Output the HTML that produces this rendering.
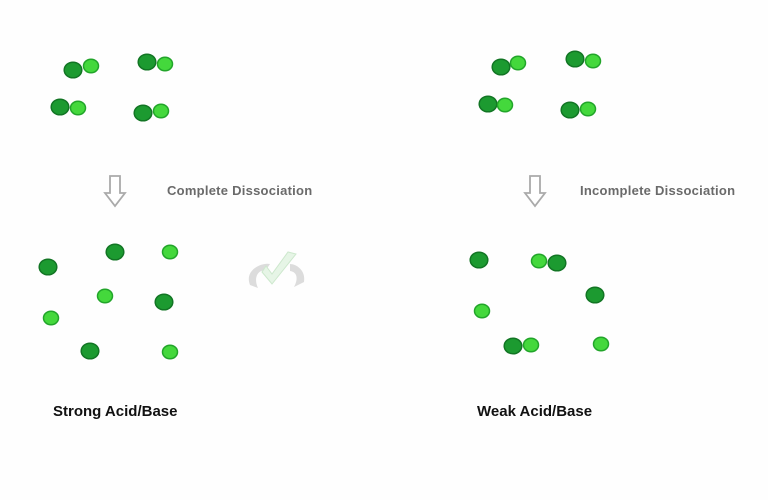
<!DOCTYPE html>
<html><head><meta charset="utf-8"><style>
html,body{margin:0;padding:0;background:#fefefe;}
svg{display:block}
text{font-family:"Liberation Sans",sans-serif;}
</style></head><body>
<svg width="768" height="500" viewBox="0 0 768 500" xmlns="http://www.w3.org/2000/svg">
<defs>
<g id="d"><ellipse rx="8.8" ry="7.8" fill="#1c9a30" stroke="#127524" stroke-width="1.5"/></g>
<g id="l"><ellipse rx="7.5" ry="6.8" fill="#44d83c" stroke="#22a52a" stroke-width="1.5"/></g>
<g id="ar"><path d="M-5,0 H5 V17 H10 L0,30 L-10,17 H-5 Z" fill="#fff" stroke="#aaa" stroke-width="1.8"/></g>
</defs>
<rect width="768" height="500" fill="#fefefe"/>
<use href="#d" x="73" y="70"/><use href="#l" x="91" y="66"/>
<use href="#d" x="147" y="62"/><use href="#l" x="165" y="64"/>
<use href="#d" x="60" y="107"/><use href="#l" x="78" y="108"/>
<use href="#d" x="143" y="113"/><use href="#l" x="161" y="111"/>
<use href="#ar" x="115" y="176"/>
<text x="167" y="195" font-size="13" letter-spacing="0.25" font-weight="bold" fill="#6a6a6a">Complete Dissociation</text>
<use href="#d" x="48" y="267"/><use href="#d" x="115" y="252"/><use href="#l" x="170" y="252"/>
<use href="#l" x="105" y="296"/><use href="#d" x="164" y="302"/><use href="#l" x="51" y="318"/>
<use href="#d" x="90" y="351"/><use href="#l" x="170" y="352"/>
<path d="M250,285 C244,270 262,262 270,264 L266,270 C256,270 254,280 258,288 Z" fill="#dcdcdc"/>
<path d="M304,282 C306,270 296,264 290,264 L290,271 C298,272 298,280 294,287 Z" fill="#dcdcdc"/>
<path d="M262,272 L272,284 L296,254 L288,252 L272,274 L266,266 Z" fill="#e6f5e6" stroke="#cde8cd" stroke-width="1"/>
<text x="53" y="416" font-size="15" font-weight="bold" fill="#111">Strong Acid/Base</text>
<use href="#d" x="501" y="67"/><use href="#l" x="518" y="63"/>
<use href="#d" x="575" y="59"/><use href="#l" x="593" y="61"/>
<use href="#d" x="488" y="104"/><use href="#l" x="505" y="105"/>
<use href="#d" x="570" y="110"/><use href="#l" x="588" y="109"/>
<use href="#ar" x="535" y="176"/>
<text x="580" y="195" font-size="13" letter-spacing="0.25" font-weight="bold" fill="#6a6a6a">Incomplete Dissociation</text>
<use href="#d" x="479" y="260"/><use href="#l" x="539" y="261"/><use href="#d" x="557" y="263"/>
<use href="#d" x="595" y="295"/><use href="#l" x="482" y="311"/>
<use href="#d" x="513" y="346"/><use href="#l" x="531" y="345"/><use href="#l" x="601" y="344"/>
<text x="477" y="416" font-size="15" font-weight="bold" fill="#111">Weak Acid/Base</text>
</svg>
</body></html>
